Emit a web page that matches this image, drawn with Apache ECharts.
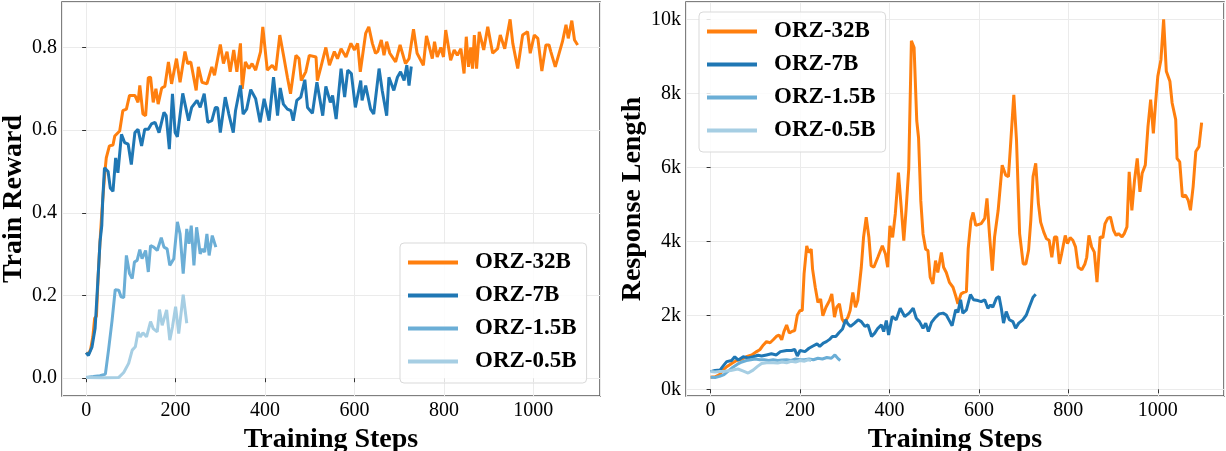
<!DOCTYPE html>
<html>
<head>
    <meta charset="utf-8">
    <style>
        html, body {
            height: 100%;
        }

        * {
            margin: 0;
            padding: 0;
        }

        #container {
            width: 1226px;
            height: 451px;
        }
    </style>
</head>
<body>
<div id="container"></div>
<script type="text/javascript" src="https://cdn.jsdelivr.net/npm/echarts@6/dist/echarts.min.js"></script>
<script type="text/javascript">
    // model names and line colours
    const seriesNames = ['ORZ-32B', 'ORZ-7B', 'ORZ-1.5B', 'ORZ-0.5B'];
    const lineColors = ['#ff7f0e', '#1f77b4', '#6baed6', '#a6cee3'];

    // left panel: train reward, [step, reward]
    const reward32b = [[0,0.062],[5,0.058],[10,0.07],[15,0.10],[19,0.145],[23,0.15],[27,0.25],[31,0.33],[35,0.40],[39,0.46],[42,0.50],[45,0.533],[52,0.562],[60,0.564],[64,0.586],[75,0.598],[82,0.647],[90,0.651],[97,0.684],[109,0.684],[116,0.667],[120,0.708],[127,0.639],[133,0.635],[139,0.727],[144,0.728],[150,0.667],[156,0.70],[161,0.663],[169,0.702],[176,0.706],[184,0.765],[191,0.712],[202,0.773],[210,0.716],[221,0.79],[227,0.761],[234,0.765],[246,0.696],[251,0.753],[259,0.716],[270,0.712],[281,0.753],[287,0.733],[300,0.807],[307,0.761],[315,0.79],[322,0.741],[330,0.794],[337,0.741],[345,0.81],[349,0.70],[356,0.765],[364,0.749],[371,0.761],[379,0.745],[390,0.79],[395,0.85],[405,0.745],[416,0.757],[424,0.745],[433,0.83],[442,0.777],[450,0.728],[457,0.688],[469,0.781],[476,0.773],[481,0.72],[491,0.741],[499,0.781],[514,0.777],[517,0.72],[525,0.753],[536,0.80],[544,0.757],[555,0.79],[562,0.773],[570,0.797],[581,0.777],[592,0.81],[600,0.794],[607,0.81],[613,0.741],[625,0.834],[632,0.85],[640,0.81],[647,0.786],[652,0.79],[660,0.818],[666,0.781],[672,0.814],[679,0.786],[692,0.765],[702,0.806],[714,0.761],[722,0.773],[732,0.844],[740,0.786],[754,0.757],[761,0.828],[774,0.773],[779,0.814],[785,0.777],[793,0.80],[799,0.777],[804,0.842],[815,0.769],[823,0.794],[830,0.781],[838,0.797],[845,0.737],[850,0.826],[855,0.753],[860,0.80],[864,0.749],[868,0.83],[873,0.749],[879,0.838],[889,0.794],[898,0.85],[909,0.786],[920,0.797],[926,0.83],[936,0.797],[948,0.868],[954,0.81],[965,0.749],[976,0.83],[987,0.838],[993,0.786],[1002,0.83],[1010,0.822],[1019,0.743],[1028,0.806],[1035,0.806],[1039,0.79],[1049,0.753],[1065,0.814],[1073,0.855],[1078,0.822],[1086,0.865],[1092,0.818],[1099,0.806]];
    const reward7b = [[0,0.062],[5,0.055],[13,0.075],[20,0.12],[28,0.27],[31,0.33],[35,0.37],[37,0.43],[41,0.509],[49,0.50],[54,0.46],[60,0.452],[66,0.533],[71,0.497],[79,0.59],[86,0.57],[94,0.566],[101,0.517],[109,0.594],[116,0.602],[124,0.562],[131,0.602],[139,0.602],[146,0.615],[154,0.619],[163,0.594],[174,0.643],[179,0.635],[186,0.554],[193,0.688],[199,0.594],[204,0.584],[216,0.689],[229,0.623],[236,0.655],[248,0.672],[255,0.655],[264,0.688],[272,0.619],[281,0.623],[289,0.655],[294,0.654],[300,0.594],[311,0.68],[319,0.639],[329,0.594],[334,0.647],[345,0.708],[351,0.639],[359,0.651],[368,0.698],[379,0.676],[389,0.619],[398,0.676],[409,0.623],[419,0.728],[428,0.635],[434,0.702],[441,0.663],[450,0.651],[458,0.647],[463,0.623],[471,0.672],[480,0.68],[489,0.722],[495,0.655],[506,0.641],[516,0.716],[529,0.635],[536,0.706],[546,0.667],[551,0.684],[559,0.627],[570,0.749],[578,0.68],[585,0.745],[593,0.737],[602,0.655],[614,0.72],[617,0.672],[625,0.708],[636,0.651],[643,0.639],[655,0.749],[662,0.696],[672,0.635],[677,0.728],[688,0.696],[696,0.728],[703,0.741],[711,0.72],[717,0.757],[722,0.708],[727,0.754]];
    const reward1p5b = [[0,0.002],[16,0.004],[31,0.006],[43,0.01],[50,0.068],[58,0.14],[65,0.214],[73,0.213],[78,0.197],[84,0.195],[90,0.297],[97,0.253],[103,0.241],[108,0.281],[114,0.285],[120,0.311],[125,0.289],[133,0.309],[139,0.257],[144,0.321],[151,0.317],[159,0.309],[168,0.34],[174,0.317],[181,0.313],[187,0.273],[196,0.289],[204,0.378],[210,0.349],[217,0.253],[225,0.361],[230,0.325],[235,0.369],[241,0.273],[247,0.365],[255,0.301],[260,0.313],[265,0.305],[270,0.349],[275,0.297],[282,0.345],[290,0.317]];
    const reward0p5b = [[0,0.002],[40,0.001],[73,0.002],[84,0.014],[95,0.036],[103,0.068],[110,0.076],[116,0.112],[121,0.10],[127,0.11],[135,0.10],[144,0.137],[150,0.12],[159,0.112],[164,0.166],[170,0.128],[180,0.165],[187,0.092],[193,0.124],[200,0.173],[207,0.108],[211,0.112],[217,0.202],[225,0.133]];

    // right panel: response length in thousands, [step, length]
    const length32b = [[0,0.33],[10,0.34],[19,0.39],[28,0.52],[36,0.61],[47,0.70],[58,0.78],[69,0.81],[80,0.88],[92,0.93],[103,1.02],[110,1.07],[118,1.20],[125,1.29],[133,1.26],[140,1.34],[147,1.43],[153,1.47],[159,1.34],[164,1.56],[170,1.74],[176,1.52],[181,1.56],[188,1.59],[194,2.01],[200,2.13],[205,2.13],[209,3.12],[215,3.88],[219,3.70],[225,3.79],[228,3.25],[234,2.76],[240,2.35],[246,2.44],[251,1.99],[258,2.22],[266,2.40],[271,2.58],[277,1.95],[282,2.22],[288,2.31],[294,1.90],[299,1.80],[307,1.95],[312,2.13],[318,2.62],[324,2.22],[329,2.40],[337,3.30],[342,4.11],[348,4.65],[354,4.11],[359,3.34],[365,3.30],[374,3.57],[384,3.88],[391,3.66],[396,3.30],[401,4.42],[407,4.11],[413,4.74],[420,5.86],[426,4.96],[432,4.02],[437,4.83],[443,5.95],[449,9.42],[455,9.24],[461,7.26],[465,6.80],[470,5.10],[475,4.20],[481,3.79],[486,3.75],[491,3.03],[497,2.85],[503,3.48],[508,3.16],[516,3.70],[521,3.30],[527,3.16],[534,2.89],[542,2.76],[548,2.53],[553,2.31],[560,2.58],[566,2.62],[572,2.64],[576,3.80],[582,4.55],[587,4.78],[593,4.43],[605,4.48],[613,4.62],[618,5.16],[624,4.12],[630,3.21],[635,4.12],[643,4.84],[652,6.06],[660,5.79],[666,5.75],[670,6.47],[678,7.96],[684,6.74],[691,4.21],[699,3.39],[705,3.39],[711,3.76],[716,4.57],[721,5.75],[727,6.11],[733,5.02],[738,4.52],[745,4.25],[751,4.07],[757,4.03],[763,3.57],[769,4.12],[774,4.12],[780,3.39],[785,3.67],[793,4.16],[798,3.94],[804,4.10],[810,4.03],[816,3.85],[822,3.30],[830,3.23],[837,3.39],[841,3.57],[846,4.16],[852,3.85],[858,3.71],[864,2.90],[871,4.12],[877,4.10],[882,4.48],[888,4.62],[894,4.66],[901,4.30],[907,4.16],[912,4.21],[920,4.12],[925,4.21],[931,4.39],[936,5.88],[942,4.84],[948,5.66],[954,6.24],[960,5.34],[965,5.84],[972,6.06],[978,7.10],[984,7.83],[990,6.92],[995,7.74],[1000,8.46],[1007,8.91],[1013,10.0],[1019,8.60],[1027,8.33],[1032,7.74],[1040,7.29],[1043,6.24],[1049,6.15],[1055,5.20],[1062,5.25],[1068,5.11],[1073,4.84],[1079,5.48],[1085,6.43],[1092,6.56],[1098,7.21]];
    const length7b = [[0,0.48],[10,0.51],[21,0.52],[30,0.66],[36,0.75],[47,0.78],[54,0.88],[62,0.79],[73,0.88],[84,0.85],[95,0.88],[106,0.92],[114,0.90],[125,0.93],[136,0.96],[147,0.93],[156,1.02],[170,1.05],[181,1.05],[188,1.08],[194,0.90],[200,1.05],[211,1.02],[220,1.11],[229,1.17],[238,1.23],[244,1.16],[252,1.25],[259,1.29],[266,1.35],[272,1.43],[280,1.43],[287,1.53],[295,1.63],[302,1.88],[307,1.77],[313,1.70],[322,1.79],[330,1.88],[337,1.83],[345,1.70],[352,1.74],[360,1.43],[367,1.52],[374,1.65],[382,1.74],[387,1.56],[393,1.86],[398,1.47],[406,1.97],[415,1.88],[424,2.19],[434,1.97],[444,2.06],[453,2.19],[460,1.92],[467,1.83],[475,1.65],[481,1.79],[487,1.56],[494,1.81],[501,1.92],[511,2.04],[520,2.06],[527,2.01],[535,1.83],[540,1.72],[548,2.15],[553,2.08],[559,2.42],[564,2.06],[572,2.15],[581,2.56],[588,2.42],[598,2.40],[605,2.37],[613,2.42],[620,2.19],[626,2.28],[631,2.22],[639,2.46],[645,2.51],[650,2.19],[655,1.79],[661,2.10],[668,1.88],[676,1.83],[682,1.65],[689,1.79],[698,1.88],[706,2.01],[713,2.24],[721,2.49],[727,2.57]];
    const length1p5b = [[0,0.33],[10,0.32],[20,0.35],[30,0.40],[40,0.50],[50,0.60],[60,0.68],[70,0.74],[80,0.78],[90,0.80],[100,0.82],[110,0.80],[120,0.80],[130,0.78],[140,0.80],[150,0.78],[160,0.79],[170,0.80],[180,0.78],[190,0.82],[200,0.80],[210,0.80],[220,0.82],[230,0.80],[240,0.84],[250,0.82],[260,0.86],[270,0.84],[278,0.93],[285,0.83],[290,0.78]];
    const length0p5b = [[0,0.48],[10,0.47],[20,0.48],[32,0.49],[45,0.51],[61,0.55],[72,0.50],[84,0.44],[95,0.52],[105,0.62],[114,0.70],[125,0.72],[140,0.72],[150,0.71],[160,0.74],[170,0.72],[180,0.76],[190,0.74],[200,0.78],[210,0.76],[218,0.80],[225,0.78]];

    const rewardData = [reward32b, reward7b, reward1p5b, reward0p5b];
    const lengthData = [length32b, length7b, length1p5b, length0p5b];

    const serif = '"Liberation Serif", "DejaVu Serif", serif';
    let dom = document.getElementById("container");
    let myChart = echarts.init(dom, null, {renderer: 'canvas'});

    function makeXAxis(gridIndex) {
        return {
            type: 'value',
            gridIndex: gridIndex,
            min: gridIndex === 0 ? -54 : -55,
            max: gridIndex === 0 ? 1149 : 1148,
            splitNumber: 6,
            name: 'Training Steps',
            nameLocation: 'middle',
            nameGap: 24,
            nameTextStyle: {fontFamily: serif, fontSize: 28, fontWeight: 'bold', color: '#000'},
            axisLine: {show: false},
            axisTick: {show: true, length: 4, lineStyle: {color: '#333'}},
            axisLabel: {
                fontFamily: serif, fontSize: 20, color: '#000', margin: 5,
                showMinLabel: false, showMaxLabel: false,
                formatter: function (v) { return v % 200 === 0 ? String(v) : ''; }
            },
            splitLine: {show: true, lineStyle: {color: '#ebebeb', width: 1}}
        };
    }

    function makeYAxis(gridIndex) {
        let left = gridIndex === 0;
        return {
            type: 'value',
            gridIndex: gridIndex,
            min: left ? -0.043 : -0.18,
            max: left ? 0.91 : 10.47,
            splitNumber: 5,
            name: left ? 'Train Reward' : 'Response Length',
            nameLocation: 'middle',
            nameGap: left ? 34 : 38,
            nameTextStyle: {fontFamily: serif, fontSize: 28, fontWeight: 'bold', color: '#000'},
            axisLine: {show: false},
            axisTick: {show: true, length: 4, lineStyle: {color: '#333'}},
            axisLabel: {
                fontFamily: serif, fontSize: 20, color: '#000', margin: 5,
                showMinLabel: false, showMaxLabel: false,
                formatter: left
                    ? function (v) { return Math.abs(v * 5 - Math.round(v * 5)) < 1e-6 ? v.toFixed(1) : ''; }
                    : function (v) { return Math.abs(v / 2 - Math.round(v / 2)) < 1e-6 ? Math.round(v) + 'k' : ''; }
            },
            splitLine: {show: true, lineStyle: {color: '#ebebeb', width: 1}}
        };
    }

    function makeLegend(left, top) {
        return {
            left: left,
            top: top,
            orient: 'vertical',
            icon: 'rect',
            itemWidth: 50,
            itemHeight: 4,
            itemGap: 10,
            padding: [8, 10, 10, 8],
            borderColor: '#d9d9d9',
            borderWidth: 1,
            borderRadius: 4,
            backgroundColor: 'rgba(255,255,255,0.85)',
            textStyle: {fontFamily: serif, fontSize: 23, fontWeight: 'bold', color: '#000', padding: [0, 0, 0, 12]},
            data: seriesNames
        };
    }

    let series = [];
    [rewardData, lengthData].forEach(function (group, g) {
        group.forEach(function (d, i) {
            series.push({
                name: seriesNames[i],
                type: 'line',
                xAxisIndex: g,
                yAxisIndex: g,
                showSymbol: false,
                symbol: 'none',
                animation: false,
                itemStyle: {color: lineColors[i]},
                lineStyle: {color: lineColors[i], width: 3},
                data: d
            });
        });
    });

    let option = {
        backgroundColor: '#fff',
        animation: false,
        grid: [
            {left: 62, top: 2, width: 538, height: 394, outerBoundsMode: 'none', containLabel: false, show: true, borderColor: '#555', borderWidth: 1.5, backgroundColor: 'transparent'},
            {left: 686, top: 2, width: 538, height: 394, outerBoundsMode: 'none', containLabel: false, show: true, borderColor: '#555', borderWidth: 1.5, backgroundColor: 'transparent'}
        ],
        legend: [makeLegend(400, 243), makeLegend(699, 12)],
        xAxis: [makeXAxis(0), makeXAxis(1)],
        yAxis: [makeYAxis(0), makeYAxis(1)],
        series: series
    };
    if (option && typeof option === "object") {
        myChart.setOption(option, true);
    }
</script>
</body>
</html>
